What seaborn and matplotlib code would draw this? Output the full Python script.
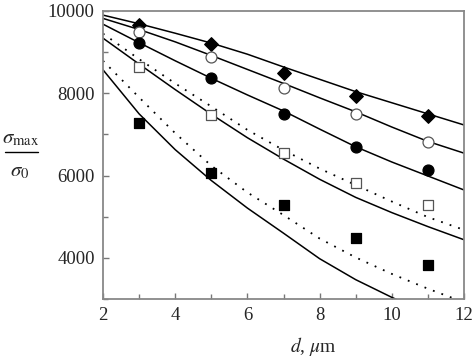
import matplotlib
matplotlib.use("Agg")
import matplotlib.pyplot as plt
import seaborn as sns
import pandas as pd
from matplotlib.lines import Line2D
from matplotlib.ticker import MultipleLocator

# ---- data ----
d_curve = [2, 3, 4, 5, 6, 7, 8, 9, 10, 11, 12]
curve_1 = [9900, 9690, 9460, 9220, 8950, 8640, 8340, 8040, 7770, 7500, 7230]
curve_2 = [9820, 9550, 9250, 8920, 8580, 8240, 7890, 7550, 7180, 6830, 6545]
curve_3 = [9680, 9230, 8790, 8365, 7960, 7570, 7130, 6700, 6330, 5990, 5650]
dotted_1 = [9450, 8830, 8240, 7680, 7110, 6620, 6170, 5770, 5370, 4990, 4680]
curve_4 = [9340, 8710, 8090, 7490, 6920, 6400, 5910, 5470, 5100, 4760, 4440]
dotted_2 = [8790, 7900, 7030, 6240, 5590, 5040, 4470, 4010, 3610, 3250, 2920]
curve_5 = [8570, 7500, 6630, 5880, 5210, 4600, 3980, 3470, 3040, 2650, 2300]

d_pts = [3, 5, 7, 9, 11]
diamonds = [9660, 9200, 8500, 7945, 7450]
open_circles = [9500, 8890, 8120, 7500, 6810]
filled_circles = [9230, 8365, 7500, 6690, 6140]
open_squares = [8630, 7475, 6545, 5815, 5290]
filled_squares = [7280, 6060, 5290, 4490, 3830]

x_ticks = [2, 4, 6, 8, 10, 12]
y_ticks = [4000, 6000, 8000, 10000]

sns.set_style("ticks")
plt.rcParams["font.family"] = ["Liberation Serif", "DejaVu Serif"]
plt.rcParams["mathtext.fontset"] = "stix"

fig = plt.figure(figsize=(4.74, 3.61), dpi=100)
ax = fig.add_axes([103 / 474, 1 - 299 / 361, 361 / 474, 288 / 361])

curves = [(curve_1, "-"), (curve_2, "-"), (curve_3, "-"), (dotted_1, ":"),
          (curve_4, "-"), (dotted_2, ":"), (curve_5, "-")]
for vals, ls in curves:
    df = pd.DataFrame({"d": d_curve, "s": vals})
    if ls == "-":
        sns.lineplot(data=df, x="d", y="s", ax=ax, color="black", lw=1.1,
                     sort=False, legend=False)
    else:
        line = sns.lineplot(data=df, x="d", y="s", ax=ax, color="black", lw=1.3,
                            sort=False, legend=False)
        ax.lines[-1].set_linestyle((0, (1, 4)))

pts = [
    (diamonds, "D", "black", "black", 48),
    (open_circles, "o", "white", "#555555", 62),
    (filled_circles, "o", "black", "black", 62),
    (open_squares, "s", "white", "#555555", 42),
    (filled_squares, "s", "black", "black", 42),
]
for vals, m, fc, ec, sz in pts:
    df = pd.DataFrame({"d": d_pts, "s": vals})
    sns.scatterplot(data=df, x="d", y="s", ax=ax, marker=m, s=sz,
                    facecolor=fc, edgecolor=ec, linewidth=0.9, zorder=5,
                    legend=False)

ax.set_xlim(2, 12)
ax.set_ylim(3000, 10000)
ax.set_xticks(x_ticks)
ax.set_yticks(y_ticks)
ax.xaxis.set_minor_locator(MultipleLocator(1))
ax.yaxis.set_minor_locator(MultipleLocator(1000))
ax.tick_params(which="both", direction="in", labelsize=13.5, color="#777777",
               width=1.0, top=False, right=False)
ax.tick_params(which="major", length=4, pad=6)
ax.tick_params(which="minor", length=3.5)
for sp in ax.spines.values():
    sp.set_color("#888888")
    sp.set_linewidth(1.3)
ax.set_xlabel("")
ax.set_ylabel("")

fig.text(313 / 474, 1 - 347 / 361, r"$d$, $\mu$m", fontsize=14,
         ha="center", va="center")
fig.text(21 / 474, 1 - 139 / 361, r"$\sigma_{\mathrm{max}}$", fontsize=15,
         ha="center", va="center")
fig.text(20 / 474, 1 - 172 / 361, r"$\sigma_0$", fontsize=15,
         ha="center", va="center")
fig.add_artist(Line2D([5 / 474, 38 / 474], [1 - 152 / 361, 1 - 152 / 361],
                      color="black", lw=1.0, transform=fig.transFigure))

fig.savefig("out.png", dpi=100)
